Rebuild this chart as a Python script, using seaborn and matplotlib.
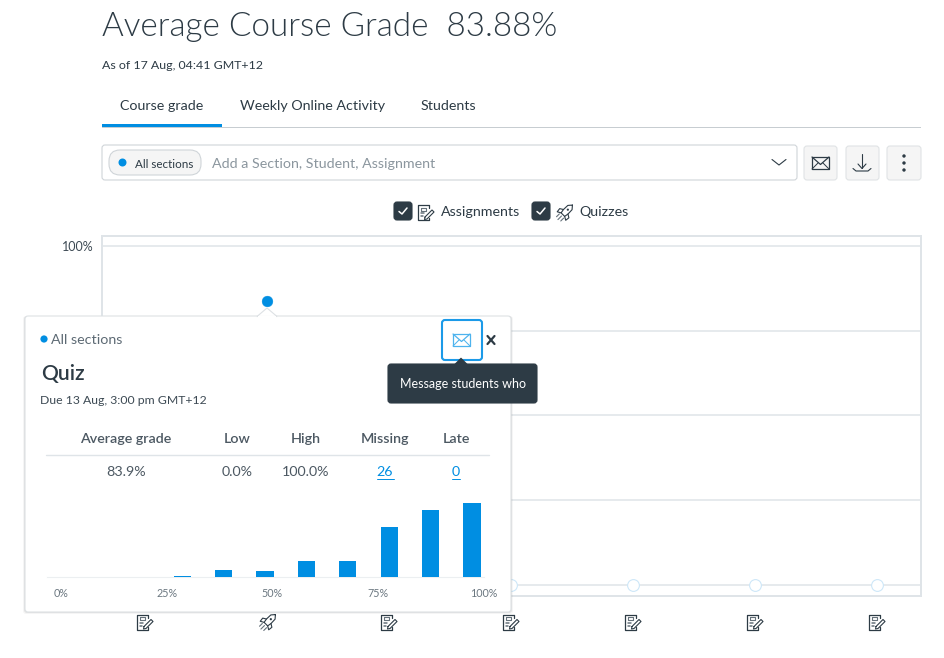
import numpy as np
import pandas as pd
import matplotlib
matplotlib.use("Agg")
import matplotlib.pyplot as plt
from matplotlib.patches import FancyBboxPatch, Polygon, Circle, Rectangle
import seaborn as sns

# data
item_names = ["Assignment 1", "Quiz", "Assignment 2", "Assignment 3", "Assignment 4", "Assignment 5", "Assignment 6"]
item_types = ["assignment", "quiz", "assignment", "assignment", "assignment", "assignment", "assignment"]
avg_grades = [0, 83.88, 0, 0, 0, 0, 0]
y_ticks = [0, 25, 50, 75, 100]
# only the top label can be seen, the popup hides the rest
y_tick_labels = ["", "", "", "", "100%"]

grade_bins = ["0-10", "10-20", "20-30", "30-40", "40-50", "50-60", "60-70", "70-80", "80-90", "90-100"]
bin_counts = [0, 0, 1, 5, 4, 11, 11, 35, 47, 52]
hist_labels = ["0%", "25%", "50%", "75%", "100%"]

table_heads = ["Average grade", "Low", "High", "Missing", "Late"]
table_vals = ["83.9%", "0.0%", "100.0%", "26", "0"]

BLUE = "#008ee2"
DARK = "#2d3b45"
GREY = "#dfe4e8"
W, H = 944, 658

sns.set_theme(style="white")
plt.rcParams["font.family"] = ["Lato", "DejaVu Sans"]
plt.rcParams["axes.unicode_minus"] = False


def pt(px):
    return px * 0.72


def axes_box(left, top, right, bottom, z):
    a = fig.add_axes([left / W, 1 - bottom / H, (right - left) / W, (bottom - top) / H], zorder=z)
    return a


fig = plt.figure(figsize=(W / 100, H / 100), dpi=100, facecolor="white")

# ------------------------------
# main chart
# ------------------------------
ax = axes_box(102, 236, 921, 596, 1)
df = pd.DataFrame({"item": item_names, "kind": item_types, "grade": avg_grades})
df["pos"] = np.arange(len(df))
has_grade = df["grade"] > 0
sns.scatterplot(data=df[~has_grade], x="pos", y="grade", s=72, color="white",
                edgecolor="#cde7f8", linewidth=0.8, ax=ax, zorder=3, clip_on=False)
sns.scatterplot(data=df[has_grade], x="pos", y="grade", s=60, color=BLUE,
                edgecolor=BLUE, linewidth=0.3, ax=ax, zorder=3)
ax.set_xlim(-0.352, 6.36)
ax.set_ylim(-3.2, 102.9)
ax.set_yticks(y_ticks)
ax.set_yticklabels(y_tick_labels, fontsize=pt(12.5), color="#3d4a54")
ax.set_xticks([])
ax.set_xlabel("")
ax.set_ylabel("")
ax.grid(axis="y", color=GREY, linewidth=1.1)
ax.set_axisbelow(True)
ax.tick_params(axis="y", length=0, pad=6)
for s in ax.spines.values():
    s.set_color(GREY)
    s.set_linewidth(1.4)

# ------------------------------
# page furniture in pixel coords
# ------------------------------
ui = fig.add_axes([0, 0, 1, 1], zorder=2)
ui.set_xlim(0, W)
ui.set_ylim(H, 0)
ui.axis("off")
ui.patch.set_alpha(0)


def txt(x, y, s, size=14.3, color=DARK, ha="left", weight="normal"):
    ui.text(x, y, s, fontsize=pt(size), color=color, ha=ha, va="center", fontweight=weight, zorder=6)


def rbox(x0, y0, x1, y1, r=3, fc="white", ec=GREY, lw=0.8, z=2):
    p = FancyBboxPatch((x0 + r, y0 + r), x1 - x0 - 2 * r, y1 - y0 - 2 * r,
                       boxstyle=f"round,pad={r},rounding_size={r}", fc=fc, ec=ec, lw=lw, zorder=z)
    ui.add_patch(p)


def line(xs, ys, color=DARK, lw=0.9, z=6):
    ui.plot(xs, ys, color=color, lw=lw, zorder=z, solid_capstyle="round", solid_joinstyle="round")


def envelope(cx, cy, w, h, color=DARK, lw=0.9):
    x0, x1, y0, y1 = cx - w / 2, cx + w / 2, cy - h / 2, cy + h / 2
    line([x0, x1, x1, x0, x0], [y0, y0, y1, y1, y0], color, lw)
    line([x0, cx, x1], [y0, cy + 1.5, y0], color, lw)
    line([x0, cx - 2.5], [y1, cy], color, lw * 0.8)
    line([x1, cx + 2.5], [y1, cy], color, lw * 0.8)


def icon_assign(cx, cy):
    x0, y0 = cx - 8, cy - 7.5
    line([x0 + 11, x0, x0, x0 + 11, x0 + 11], [y0, y0, y0 + 15, y0 + 15, y0 + 12.5], DARK, 0.9)
    line([x0 + 11, x0 + 11], [y0, y0 + 3], DARK, 0.9)
    line([x0 + 2.5, x0 + 8, x0 + 8, x0 + 2.5, x0 + 2.5], [y0 + 2.5, y0 + 2.5, y0 + 5.5, y0 + 5.5, y0 + 2.5], "#66727b", 0.8)
    line([x0 + 2.5, x0 + 6], [y0 + 8, y0 + 8], "#66727b", 1.1)
    line([x0 + 2.5, x0 + 5], [y0 + 11, y0 + 11], "#66727b", 1.1)
    line([x0 + 7, x0 + 14, x0 + 16, x0 + 9, x0 + 6.5, x0 + 7], [y0 + 12, y0 + 5, y0 + 7, y0 + 14, y0 + 14.5, y0 + 12], DARK, 0.8)


def icon_rocket(cx, cy):
    # outline given along the rocket's axis, then turned to point up-right
    def turned(us, vs):
        us, vs = np.array(us, float), np.array(vs, float)
        c = np.sqrt(0.5)
        return cx + c * (us - vs), cy - c * (us + vs)
    bx, by = turned([10.5, 7, 1, -3, -3, 1, 7, 10.5], [0, 3, 3.2, 2.5, -2.5, -3.2, -3, 0])
    line(bx, by, DARK, 0.8)
    fx, fy = turned([1, -1, -5, -3], [3.2, 6.5, 6, 2.5])
    line(fx, fy, DARK, 0.8)
    fx, fy = turned([1, -1, -5, -3], [-3.2, -6.5, -6, -2.5])
    line(fx, fy, DARK, 0.8)
    for v, end in [(-3, -9), (0, -10), (3, -9)]:
        tx, ty = turned([-5, end], [v, v])
        line(tx, ty, "#66727b", 0.8)
    hx, hy = turned([4], [0])
    ui.add_patch(Circle((hx[0], hy[0]), 1.1, fc=DARK, ec="none", zorder=6))


def checkbox(x0, y0):
    rbox(x0, y0, x0 + 18, y0 + 18, r=3, fc=DARK, ec=DARK)
    line([x0 + 5, x0 + 8, x0 + 13], [y0 + 9.5, y0 + 12, y0 + 6], "white", 1.1)


# header
ui.text(102, 27, "Average Course Grade  83.88%", fontsize=pt(33.3), color=DARK, fontweight=300, va="center")
txt(102, 65.5, "As of 17 Aug, 04:41 GMT+12", 12.4)

# tabs
txt(120, 105.5, "Course grade")
txt(240, 105.5, "Weekly Online Activity")
txt(421, 105.5, "Students")
ui.add_patch(Rectangle((102, 127), 819, 1, fc="#c7cdd1", ec="none"))
ui.add_patch(Rectangle((102, 124), 120, 3, fc=BLUE, ec="none", zorder=3))

# search row
rbox(102, 145, 797, 180, r=3, ec="#d0d5d9")
rbox(109, 150, 201, 175, r=11, fc="#f5f5f5", ec="#d0d5d9", z=3)
ui.add_patch(Circle((122.5, 162.5), 4, fc=BLUE, ec="none", zorder=4))
txt(135, 164, "All sections", 11.6)
txt(212, 163.5, "Add a Section, Student, Assignment", 14.3, "#8b969e")
line([772, 779, 786], [159.5, 165, 159.5], DARK, 0.8)
for x0, x1 in [(804, 837), (846, 879), (887, 921)]:
    rbox(x0, 146, x1, 180, r=3, fc="#f5f5f5", ec="#e0e3e5")
envelope(820.5, 163, 17, 12, DARK, 0.9)
line([862, 862], [154, 168], DARK, 0.8)
line([858, 862, 866], [164, 168.5, 164], DARK, 0.8)
line([853, 856, 868, 871], [168.5, 171, 171, 168.5], DARK, 0.8)
for yy in [156, 163, 170]:
    ui.add_patch(Circle((904, yy), 1.7, fc=DARK, ec="none", zorder=6))

# legend row
checkbox(394, 202)
icon_assign(426, 212.5)
txt(441, 212.5, "Assignments")
checkbox(532, 202)
icon_rocket(565, 212.5)
txt(579, 212.5, "Quizzes")

# icons under the x axis
for pos, kind in zip(df["pos"], df["kind"]):
    cx = 145 + 122 * pos
    if kind == "quiz":
        icon_rocket(cx + 1, 622)
    else:
        icon_assign(cx, 622)

# popup with a soft shadow
for off, alpha in [(2, 0.04), (1, 0.07)]:
    rbox(25 - off, 316, 511 + off, 612 + off, r=3, fc="black", ec="none", z=3.0)
    ui.patches[-1].set_alpha(alpha)
rbox(25, 316, 511, 612, r=3, fc="white", ec="#dde1e4", lw=0.8, z=3.1)
ui.add_patch(Polygon([[257, 316.5], [267, 308], [277, 316.5]], fc="white", ec="#dde1e4", lw=0.8, zorder=3.2))
ui.add_patch(Rectangle((258, 316), 18, 2, fc="white", ec="none", zorder=3.3))

ui.add_patch(Circle((44, 339), 3.6, fc=BLUE, ec="none", zorder=6))
txt(51, 340.5, "All sections", 14.3, "#5d6a74")
ui.text(41, 374, "Quiz", fontsize=pt(21), color=DARK, va="center", fontweight=600, zorder=6)
txt(40, 400, "Due 13 Aug, 3:00 pm GMT+12", 12.3, "#3d4a54")

head_x = [126, 237, 306, 385, 456]
for x, h, v in zip(head_x, table_heads, table_vals):
    is_link = h in ("Missing", "Late")
    ui.text(x, 439, h, fontsize=pt(14.2), color="#4c5862", ha="center", va="center", fontweight=600, zorder=6)
    ui.text(x, 472, v, fontsize=pt(14.2), color=BLUE if is_link else "#4c5862", ha="center", va="center", zorder=6)
    if is_link:
        half = 8.5 if h == "Missing" else 4
        line([x - half, x + half], [479, 479], BLUE, 0.7)
line([46, 489], [455, 455], GREY, 1.0)

# focused message button, close button and tooltip
rbox(442, 320, 482, 360, r=3, fc="white", ec="#1b9ae8", lw=1.5, z=5)
envelope(461.5, 340, 17, 12, "#4db3ee", 0.9)
line([487.5, 494.5], [336, 344], DARK, 1.6)
line([494.5, 487.5], [336, 344], DARK, 1.6)
rbox(388, 364, 537, 403, r=3, fc=DARK, ec=DARK, z=7)
ui.add_patch(Polygon([[454, 365], [461, 358], [468, 365]], fc=DARK, ec=DARK, lw=0.5, zorder=7))
ui.text(462.5, 384, "Message students who", fontsize=pt(12.5), color="white", ha="center", va="center", zorder=8)

# ------------------------------
# grade distribution inside the popup
# ------------------------------
bar_ax = axes_box(46.7, 497, 484, 577, 3)
hist_df = pd.DataFrame({"bin": grade_bins, "count": bin_counts})
sns.barplot(data=hist_df, x="bin", y="count", color=BLUE, saturation=1, width=0.418, ax=bar_ax, zorder=3)
bar_ax.set_xlim(-1.273, 9.29)
bar_ax.set_ylim(0, 56.4)
bar_ax.patch.set_alpha(0)
hist_ticks = [-0.93 + 2.555 * i for i in range(len(hist_labels))]
bar_ax.set_xticks(hist_ticks)
bar_ax.set_xticklabels(hist_labels, fontsize=pt(10.8), color="#6b7780")
bar_ax.set_yticks([])
bar_ax.set_xlabel("")
bar_ax.set_ylabel("")
bar_ax.tick_params(axis="x", length=0, pad=8)
for name, s in bar_ax.spines.items():
    s.set_visible(name == "bottom")
    s.set_color("#eceff1")
    s.set_linewidth(0.8)
    s.set_zorder(1)
for bar in bar_ax.patches:
    bar.set_linewidth(0)
    bar.set_zorder(4)

fig.savefig("out.png", dpi=100)
